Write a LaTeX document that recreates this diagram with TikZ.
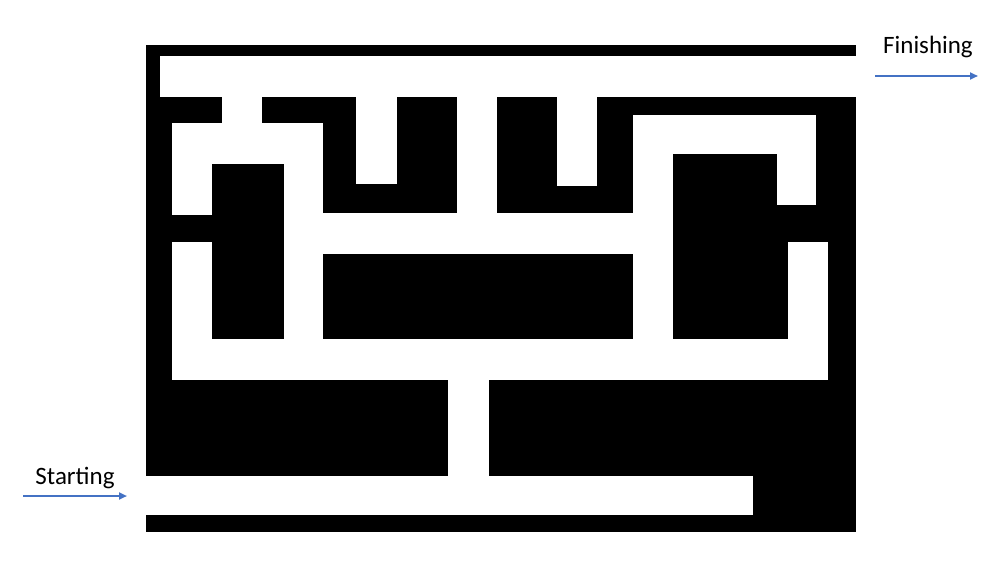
\documentclass[tikz,border=0pt]{standalone}
\usepackage{fontspec}
\setmainfont{Carlito}
\usetikzlibrary{arrows.meta}
\definecolor{arrowblue}{HTML}{4472C4}
\tikzset{
  path/.style={fill=white},
  flow/.style={draw=arrowblue, line width=2pt, -{Triangle[length=8pt,width=7pt]}},
  lbl/.style={font=\fontsize{25}{30}\selectfont, inner sep=0pt, anchor=base}
}
\begin{document}
\begin{tikzpicture}[x=1pt,y=-1pt]
\useasboundingbox (0,0) rectangle (1007,567);
\coordinate (A) at (146,45);
\coordinate (C) at (856,532);
\fill[black] (A) rectangle (C);
% corridors
\fill[path] (160,56) rectangle (857,97);
\fill[path] (222,96) rectangle (262,124);
\fill[path] (356,96) rectangle (397,184);
\fill[path] (457,96) rectangle (497,213);
\fill[path] (557,96) rectangle (597,186);
\fill[path] (172,123) rectangle (212,215);
\fill[path] (172,123) rectangle (323,164);
\fill[path] (284,123) rectangle (323,380);
\fill[path] (284,213) rectangle (673,254);
\fill[path] (633,115) rectangle (673,380);
\fill[path] (633,115) rectangle (816,154);
\fill[path] (777,153) rectangle (816,205);
\fill[path] (788,242) rectangle (828,380);
\fill[path] (172,242) rectangle (212,380);
\fill[path] (172,339) rectangle (828,380);
\fill[path] (448,379) rectangle (489,476);
\fill[path] (145,476) rectangle (753,515);
% way in and way out
\coordinate (S1) at (23,496);
\coordinate (S2) at (127,496);
\coordinate (F1) at (875,76);
\coordinate (F2) at (978,76);
\draw[flow] (S1)--(S2);
\draw[flow] (F1)--(F2);
\node[lbl] (start) at (75,484) {Starting};
\node[lbl] (finish) at (928,54) {Finishing};
\end{tikzpicture}
\end{document}
